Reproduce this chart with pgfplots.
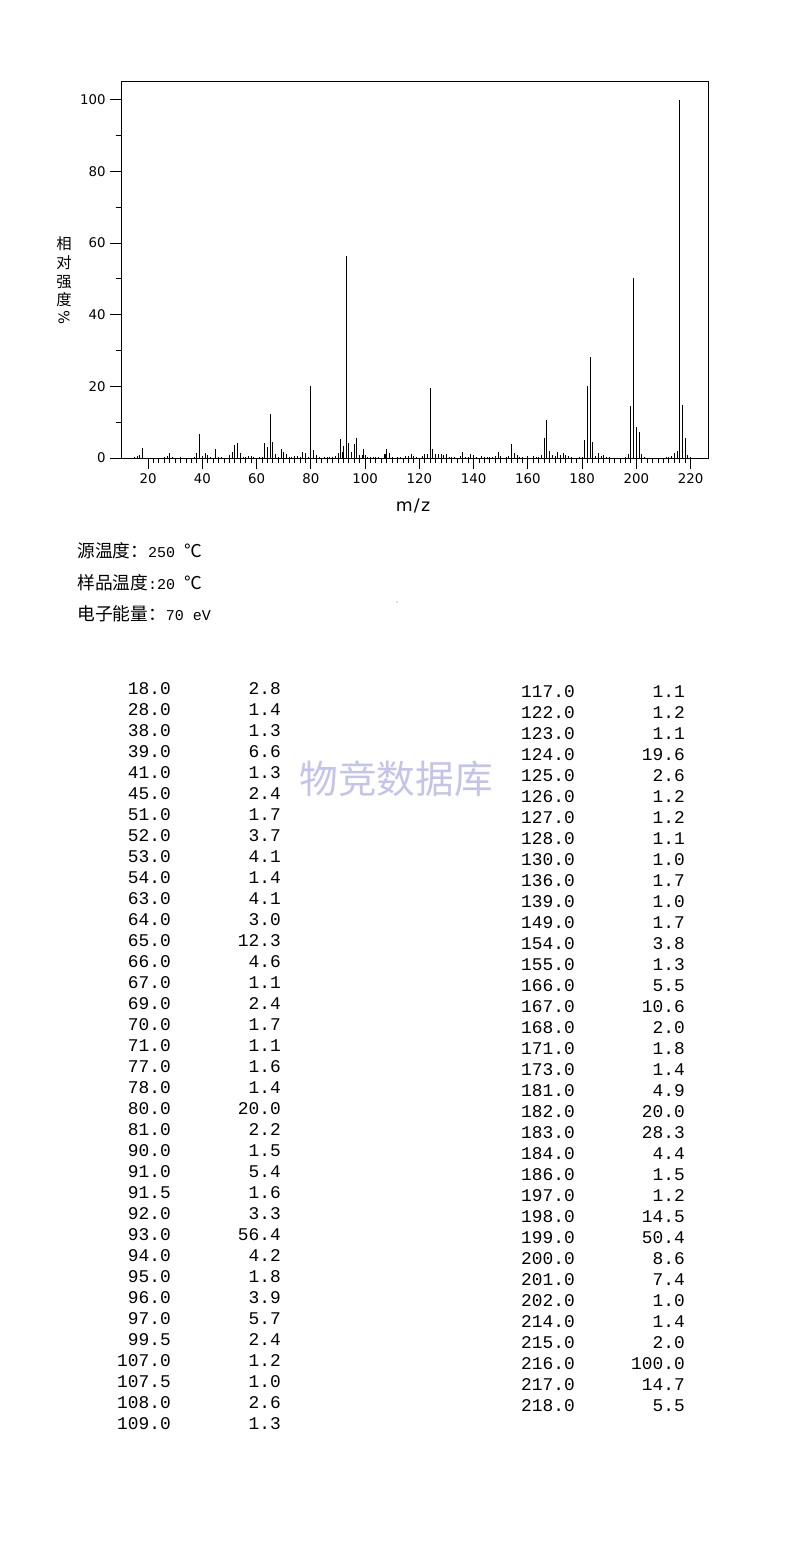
\documentclass[border=0pt]{standalone}
\usepackage{pgfplots}
\usepackage{pgfplotstable}
\pgfplotsset{compat=1.18}
\usepackage{fontspec}
\setmainfont{DejaVu Sans}
\newfontfamily\cjk{Noto Sans CJK SC}
\newfontfamily\mono{Liberation Mono}
\definecolor{wm}{RGB}{196,196,234}
\newcommand{\tabfont}{\mono\fontsize{13.4}{14}\selectfont}

% peaks listed in the table, m/z and relative intensity (%)
\pgfplotstableread{
mz I
18.0 2.8
28.0 1.4
38.0 1.3
39.0 6.6
41.0 1.3
45.0 2.4
51.0 1.7
52.0 3.7
53.0 4.1
54.0 1.4
63.0 4.1
64.0 3.0
65.0 12.3
66.0 4.6
67.0 1.1
69.0 2.4
70.0 1.7
71.0 1.1
77.0 1.6
78.0 1.4
80.0 20.0
81.0 2.2
90.0 1.5
91.0 5.4
91.5 1.6
92.0 3.3
93.0 56.4
94.0 4.2
95.0 1.8
96.0 3.9
97.0 5.7
99.5 2.4
107.0 1.2
107.5 1.0
108.0 2.6
109.0 1.3
}\peaksL
\pgfplotstableread{
mz I
117.0 1.1
122.0 1.2
123.0 1.1
124.0 19.6
125.0 2.6
126.0 1.2
127.0 1.2
128.0 1.1
130.0 1.0
136.0 1.7
139.0 1.0
149.0 1.7
154.0 3.8
155.0 1.3
166.0 5.5
167.0 10.6
168.0 2.0
171.0 1.8
173.0 1.4
181.0 4.9
182.0 20.0
183.0 28.3
184.0 4.4
186.0 1.5
197.0 1.2
198.0 14.5
199.0 50.4
200.0 8.6
201.0 7.4
202.0 1.0
214.0 1.4
215.0 2.0
216.0 100.0
217.0 14.7
218.0 5.5
}\peaksR
% small peaks (below 1 %)
\pgfplotstableread{
mz I
15 0.3
16 0.5
17 0.8
26 0.2
27 0.5
29 0.3
32 0.2
37 0.2
40 0.6
42 0.8
43 0.4
46 0.3
47 0.3
50 0.8
55 0.3
56 0.3
57 0.5
58 0.5
59 0.3
61 0.3
62 0.3
68 0.4
72 0.4
73 0.4
74 0.5
75 0.5
76 0.4
79 0.4
82 0.8
83 0.4
85 0.3
86 0.3
87 0.3
88 0.3
89 0.5
98 0.8
99 0.8
100 0.7
101 0.4
102 0.4
103 0.4
104 0.4
105 0.4
110 0.4
112 0.3
113 0.4
115 0.5
116 0.5
118 0.5
119 0.3
121 0.5
129 0.7
131 0.4
132 0.4
133 0.4
135 0.5
137 0.4
138 0.3
140 0.8
141 0.4
143 0.5
144 0.4
145 0.4
146 0.4
147 0.4
148 0.5
150 0.5
152 0.4
153 0.5
156 0.8
157 0.4
158 0.4
160 0.5
162 0.5
163 0.4
164 0.4
165 0.8
169 0.7
170 0.5
172 0.7
174 0.7
175 0.5
176 0.4
179 0.4
180 0.4
185 0.6
187 0.5
188 0.8
189 0.4
190 0.4
196 0.4
203 0.4
211 0.4
212 0.4
213 0.5
219 0.9
220 0.3
}\peaksS

\begin{document}
\begin{tikzpicture}
\fill[white] (0,0) rectangle (595.5pt,-1169.25pt);
\path[use as bounding box] (0,0) rectangle (595.5pt,-1169.25pt);
\begin{axis}[
  at={(90.75pt,-343.5pt)}, anchor=south west,
  scale only axis, width=440.25pt, height=282pt,
  xmin=10, xmax=226.4, ymin=0, ymax=105,
  axis line style={line width=0.75pt},
  tick pos=left, tick align=outside,
  xtick={20,40,...,220}, minor x tick num=9,
  ytick={0,20,...,100}, minor y tick num=1,
  major tick length=8pt, minor tick length=4pt,
  tick style={black, line width=0.75pt},
  tick label style={font=\fontsize{10}{12}\selectfont},
  /pgf/number format/assume math mode=true,
]
\addplot[ycomb, black, line width=0.75pt, mark=none] table[x=mz,y=I] {\peaksS};
\addplot[ycomb, black, line width=0.75pt, mark=none] table[x=mz,y=I] {\peaksL};
\addplot[ycomb, black, line width=0.75pt, mark=none] table[x=mz,y=I] {\peaksR};
\end{axis}

\begin{scope}[x=0.75pt, y=-0.75pt]
  % axis titles
  \node[font=\fontsize{13}{14}\selectfont] at (413,506) {m\hspace{1pt}/\hspace{1pt}z};
  \node[font=\cjk\fontsize{11.5}{12}\selectfont] at (64,244) {相};
  \node[font=\cjk\fontsize{11.5}{12}\selectfont] at (64,263) {对};
  \node[font=\cjk\fontsize{11.5}{12}\selectfont] at (64,282) {强};
  \node[font=\cjk\fontsize{11.5}{12}\selectfont] at (64,300) {度};
  \node[rotate=90, font=\fontsize{11}{12}\selectfont] at (64,318) {\%};

  % conditions
  \node[anchor=west, inner sep=0] at (77,551)
    {\cjk\fontsize{13.3}{14}\selectfont 源温度：\mono\fontsize{11.25}{14}\selectfont 250 \cjk\fontsize{13.3}{14}\selectfont ℃};
  \node[anchor=west, inner sep=0] at (77,583)
    {\cjk\fontsize{13.3}{14}\selectfont 样品温度\mono\fontsize{11.25}{14}\selectfont :20 \cjk\fontsize{13.3}{14}\selectfont ℃};
  \node[anchor=west, inner sep=0] at (77,614)
    {\cjk\fontsize{13.3}{14}\selectfont 电子能量：\mono\fontsize{11.25}{14}\selectfont 70 eV};
  \fill[gray] (397,602) circle (0.6);

  % peak table
  \pgfplotstableforeachcolumnelement{mz}\of\peaksL\as\cell{%
    \pgfplotstablegetelem{\pgfplotstablerow}{I}\of\peaksL
    \node[anchor=east, inner sep=0, font=\tabfont] at (171,{689+21*\pgfplotstablerow}) {\cell};
    \node[anchor=east, inner sep=0, font=\tabfont] at (281,{689+21*\pgfplotstablerow}) {\pgfplotsretval};
  }
  \pgfplotstableforeachcolumnelement{mz}\of\peaksR\as\cell{%
    \pgfplotstablegetelem{\pgfplotstablerow}{I}\of\peaksR
    \node[anchor=east, inner sep=0, font=\tabfont] at (575,{692+21*\pgfplotstablerow}) {\cell};
    \node[anchor=east, inner sep=0, font=\tabfont] at (685,{692+21*\pgfplotstablerow}) {\pgfplotsretval};
  }

  % watermark
  \node[text=wm, font=\cjk\fontsize{29}{30}\selectfont] at (396,779) {物竞数据库};
\end{scope}
\end{tikzpicture}
\end{document}
